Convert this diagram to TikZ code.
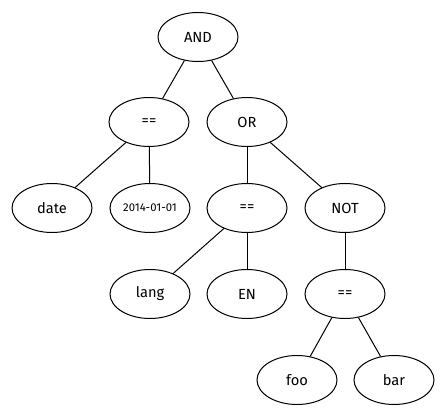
\documentclass[tikz,border=0pt]{standalone}
\usepackage{fontspec}
\setmainfont{Fira Sans}
\usetikzlibrary{shapes.geometric}
\begin{document}
\begin{tikzpicture}[x=0.75pt,y=-0.75pt,inner sep=0pt,line width=0.75pt,
treenode/.style={draw,ellipse,minimum width=60pt,minimum height=36.75pt,font=\fontsize{11}{13}\selectfont}]

\useasboundingbox (0,0) rectangle (446,417);

\draw (198,37) node[treenode] (and) {AND};
\draw (149,122) node[treenode] (eqa) {==};
\draw (247,122) node[treenode] (or) {OR};
\draw (52,208) node[treenode] (date) {date};
\draw (150,208) node[treenode] (day) {\fontsize{8.5}{10}\selectfont 2014-01-01};
\draw (247,208) node[treenode] (eqb) {==};
\draw (345,208) node[treenode] (not) {NOT};
\draw (150,294) node[treenode] (lang) {lang};
\draw (247,294) node[treenode] (en) {EN};
\draw (345,294) node[treenode] (eqc) {==};
\draw (297,380) node[treenode] (foo) {foo};
\draw (394,380) node[treenode] (bar) {bar};

\draw (and) -- (eqa);
\draw (and) -- (or);
\draw (eqa) -- (date);
\draw (eqa) -- (day);
\draw (or) -- (eqb);
\draw (or) -- (not);
\draw (eqb) -- (lang);
\draw (eqb) -- (en);
\draw (not) -- (eqc);
\draw (eqc) -- (foo);
\draw (eqc) -- (bar);

\end{tikzpicture}
\end{document}
